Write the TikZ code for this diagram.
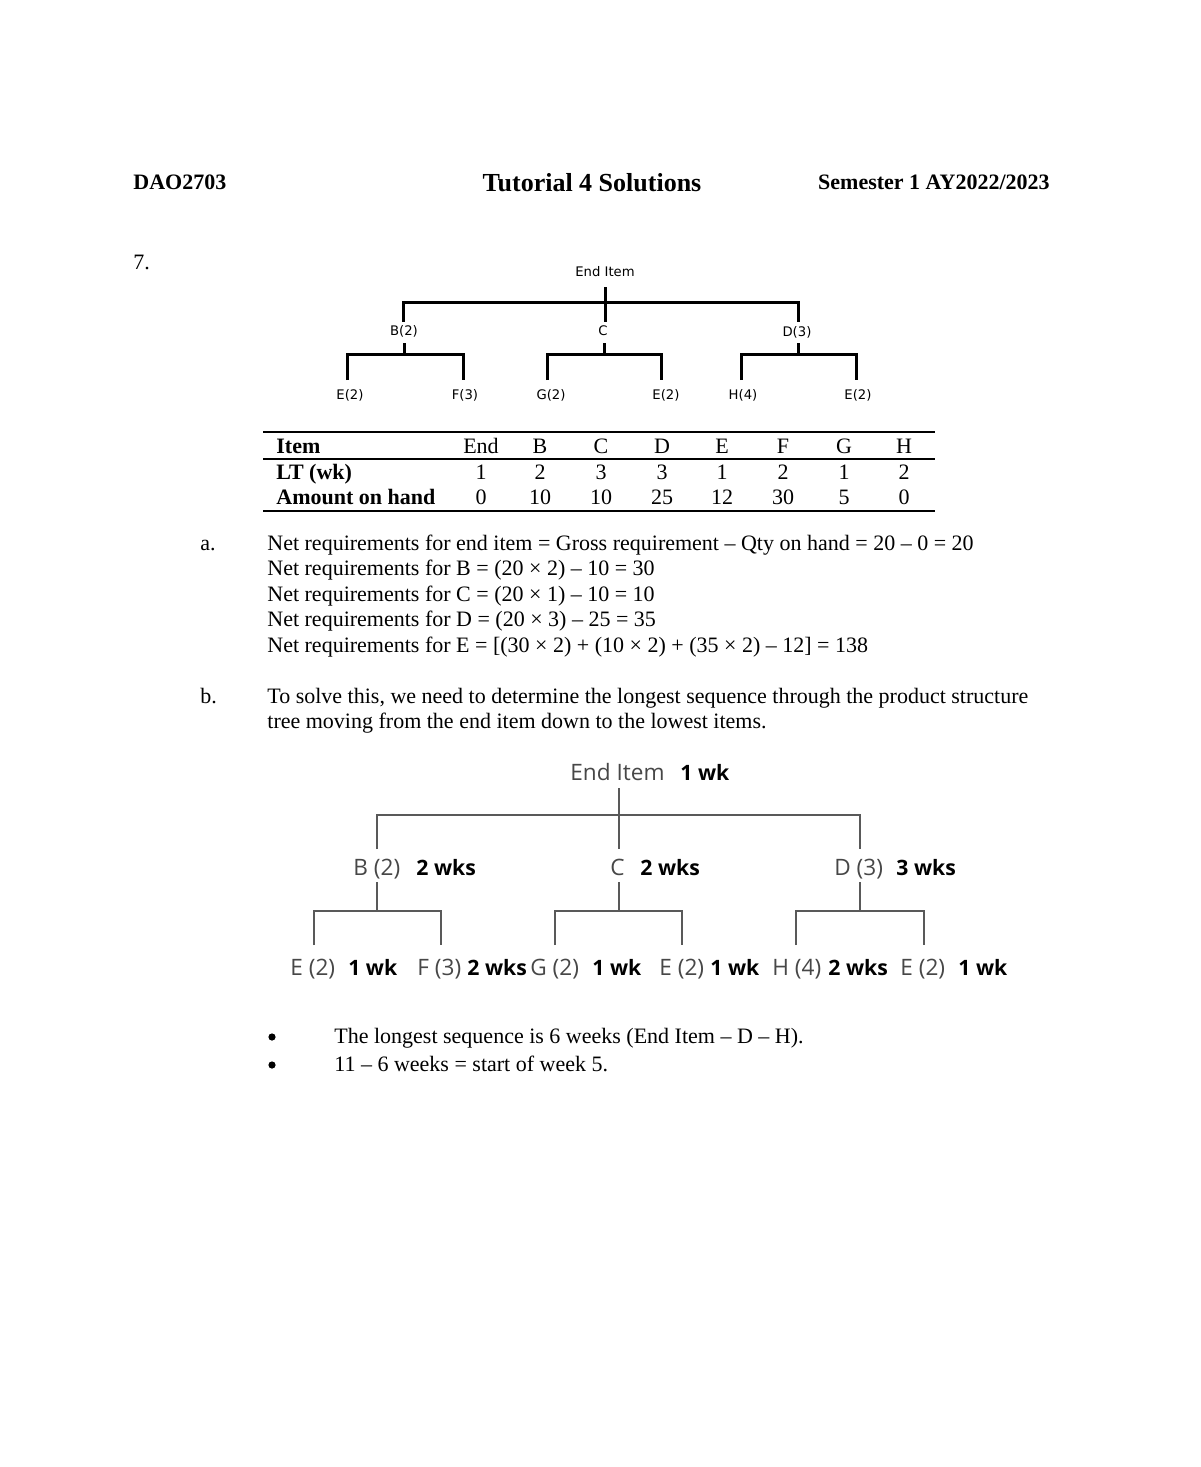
\documentclass[tikz,border=0pt]{standalone}
\usepackage{fontspec}
\setmainfont{Liberation Serif}
\newfontfamily\treefont{DejaVu Sans}
\newfontfamily\otfont{Open Sans}
\begin{document}
\begin{tikzpicture}[x=0.5pt,y=-0.5pt,
  body/.style={font=\fontsize{11}{13}\selectfont, anchor=base west, inner sep=0pt},
  bodyb/.style={font=\fontsize{11}{13}\selectfont\bfseries, anchor=base west, inner sep=0pt},
  cell/.style={font=\fontsize{11}{13}\selectfont, anchor=base, inner sep=0pt},
  tlab/.style={font=\treefont\fontsize{6.6}{8}\selectfont, anchor=base, inner sep=0pt},
  tline/.style={line width=1.5pt, black},
  glab/.style={font=\otfont\fontsize{11.3}{13}\selectfont, text=black!72, anchor=base west, inner sep=0pt},
  gbold/.style={font=\otfont\fontsize{10.6}{13}\selectfont\bfseries, text=black, anchor=base west, inner sep=0pt},
  gline/.style={line width=1pt, black!65},
  rule/.style={line width=1.2pt, black},
  bulletdot/.style={circle, fill=black, inner sep=0pt, minimum size=3.6pt},
]
\useasboundingbox (0,0) rectangle (1200,1467);
\fill[white] (0,0) rectangle (1200,1467);

% header
\node[bodyb] (hcode) at (133,189) {DAO2703};
\node[font=\fontsize{13}{15}\selectfont\bfseries, anchor=base, inner sep=0pt] (htitle) at (592,191) {Tutorial 4 Solutions};
\node[bodyb, anchor=base east] (hsem) at (1050,189) {Semester 1 AY2022/2023};
\node[body] (q7) at (133,269) {7.};

% top tree
\node[tlab] (tEnd) at (605,276) {End Item};
\node[tlab] (tB) at (404,335) {B(2)};
\node[tlab] (tC) at (603,335) {C};
\node[tlab] (tD) at (797,336) {D(3)};
\node[tlab] (tE1) at (350,399) {E(2)};
\node[tlab] (tF) at (465,399) {F(3)};
\node[tlab] (tG) at (551,399) {G(2)};
\node[tlab] (tE2) at (666,399) {E(2)};
\node[tlab] (tH) at (743,399) {H(4)};
\node[tlab] (tE3) at (858,399) {E(2)};
\coordinate (a0) at (605,287);
\coordinate (aL) at (403,302); \coordinate (aR) at (798,302);
\coordinate (aLb) at (403,322); \coordinate (aRb) at (798,322); \coordinate (aCb) at (605,322);
\draw[tline] (a0) -- (aCb);
\draw[tline] (aLb) -- (aL) -- (aR) -- (aRb);
\foreach \c/\l/\r in {404/347/463, 604/547/661, 798/741/856}{
  \draw[tline] (\c,343) -- (\c,354);
  \draw[tline] (\l,380) -- (\l,354) -- (\r,354) -- (\r,380);
}

% table
\draw[rule] (263,432) -- (935,432);
\draw[line width=0.8pt] (263,459) -- (935,459);
\draw[rule] (263,511) -- (935,511);
\node[bodyb] (tiItem) at (276,453) {Item};
\node[bodyb] (tiLT) at (276,479) {LT (wk)};
\node[bodyb] (tiAmt) at (276,504) {Amount on hand};
\foreach \x/\h/\l/\a in {481/End/1/0, 540/B/2/10, 601/C/3/10, 662/D/3/25, 722/E/1/12, 783/F/2/30, 844/G/1/5, 904/H/2/0}{
  \node[cell] at (\x,453) {\h};
  \node[cell] at (\x,479) {\l};
  \node[cell] at (\x,504) {\a};
}

% part a
\node[body] (pa) at (200,550) {a.};
\node[body] (pa1) at (267,550) {Net requirements for end item = Gross requirement – Qty on hand = 20 – 0 = 20};
\node[body] (pa2) at (267,575) {Net requirements for B = (20 × 2) – 10 = 30};
\node[body] (pa3) at (267,601) {Net requirements for C = (20 × 1) – 10 = 10};
\node[body] (pa4) at (267,626) {Net requirements for D = (20 × 3) – 25 = 35};
\node[body] (pa5) at (267,652) {Net requirements for E = [(30 × 2) + (10 × 2) + (35 × 2) – 12] = 138};

% part b
\node[body] (pb) at (200,703) {b.};
\node[body] (pb1) at (267,703) {To solve this, we need to determine the longest sequence through the product structure};
\node[body] (pb2) at (267,728) {tree moving from the end item down to the lowest items.};

% bottom tree
\node[glab] (gEnd) at (570,780) {End Item};
\node[gbold] (gEndw) at (680,780) {1 wk};
\node[glab] (gB) at (353,875) {B (2)};
\node[gbold] (gBw) at (416,875) {2 wks};
\node[glab] (gC) at (610,875) {C};
\node[gbold] (gCw) at (640,875) {2 wks};
\node[glab] (gD) at (834,875) {D (3)};
\node[gbold] (gDw) at (896,875) {3 wks};
\node[glab] (gE1) at (290,975) {E (2)};
\node[gbold] (gE1w) at (348,975) {1 wk};
\node[glab] (gF) at (417,975) {F (3)};
\node[gbold] (gFw) at (467,975) {2 wks};
\node[glab] (gG) at (530,975) {G (2)};
\node[gbold] (gGw) at (592,975) {1 wk};
\node[glab] (gE2) at (659,975) {E (2)};
\node[gbold] (gE2w) at (710,975) {1 wk};
\node[glab] (gH) at (772,975) {H (4)};
\node[gbold] (gHw) at (828,975) {2 wks};
\node[glab] (gE3) at (900,975) {E (2)};
\node[gbold] (gE3w) at (958,975) {1 wk};
\coordinate (b0) at (619,788);
\coordinate (bCb) at (619,849);
\draw[gline] (b0) -- (bCb);
\draw[gline] (377,849) -- (377,815) -- (860,815) -- (860,849);
\foreach \c/\l/\r in {377/314/441, 619/555/682, 860/796/924}{
  \draw[gline] (\c,882) -- (\c,911);
  \draw[gline] (\l,945) -- (\l,911) -- (\r,911) -- (\r,945);
}

% bullets
\node[bulletdot] (bu1) at (272,1037) {};
\node[body] (bt1) at (334,1043) {The longest sequence is 6 weeks (End Item – D – H).};
\node[bulletdot] (bu2) at (272,1065) {};
\node[body] (bt2) at (334,1071) {11 – 6 weeks = start of week 5.};
\end{tikzpicture}
\end{document}
